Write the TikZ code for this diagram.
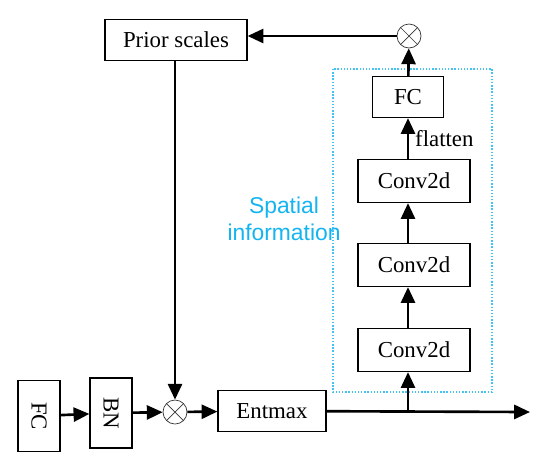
\documentclass[tikz,border=0pt]{standalone}
\usepackage{fontspec}
\setmainfont{Liberation Serif}
\setsansfont{Liberation Sans}
\usetikzlibrary{arrows.meta}
\definecolor{skyblue}{RGB}{20,180,240}
\newcommand{\prodsign}[2]% name, position
{\node[circle,draw=black!80,inner sep=0pt,minimum size=24*0.02cm] (#1) at (#2) {};
\draw[black!80] (#1.north west) -- (#1.south east) (#1.north east) -- (#1.south west);
}

\begin{document}
\begin{tikzpicture}[x=0.02cm,y=-0.02cm,
  blk/.style={draw,line width=0.7pt,fill=white,inner sep=2pt,font=\fontsize{13}{15}\selectfont},
  flow/.style={line width=1.5pt,-{Triangle[length=9pt,width=8pt]}}]
\useasboundingbox (0,0) rectangle (550,464);
% spatial branch frame
\draw[skyblue!80,densely dotted,line width=0.8pt] (333,69) rectangle (492,392);
\node[skyblue,align=center,font=\sffamily\fontsize{13}{15}\selectfont] (sp) at (284,219) {Spatial\\information};
\node[blk,minimum width=71*0.02cm,minimum height=42*0.02cm,rotate=-90] (fc1) at (39,416) {FC};
\node[blk,minimum width=70*0.02cm,minimum height=42*0.02cm,rotate=-90] (bn) at (111,413) {BN};
\prodsign{m1}{175,412}
\node[blk,minimum width=108*0.02cm,minimum height=41*0.02cm] (ent) at (272,411) {Entmax};
\node[blk,minimum width=112*0.02cm,minimum height=43*0.02cm] (cv1) at (414,350) {Conv2d};
\node[blk,minimum width=112*0.02cm,minimum height=43*0.02cm] (cv2) at (414,265) {Conv2d};
\node[blk,minimum width=112*0.02cm,minimum height=43*0.02cm] (cv3) at (414,181) {Conv2d};
\node[blk,minimum width=71*0.02cm,minimum height=41*0.02cm] (fc2) at (408,97) {FC};
\prodsign{m2}{409,36}
\node[blk,minimum width=142*0.02cm,minimum height=41*0.02cm] (ps) at (176,40) {Prior scales};
\coordinate (out) at (530,412);
\coordinate (br) at (408,412);
\draw[flow] (fc1) -- (bn);
\draw[flow] (bn) -- (m1);
\draw[flow] (m1) -- (ent);
\draw[flow] (ent) -- (out);
\draw[flow] (br) -- (cv1.south -| br);
\draw[flow] (cv1.north -| br) -- (cv2.south -| br);
\draw[flow] (cv2.north -| br) -- (cv3.south -| br);
\draw[flow] (cv3.north -| br) -- node[right,font=\fontsize{13}{15}\selectfont] {flatten} (fc2);
\draw[flow] (fc2) -- (m2);
\draw[flow] (m2) -- (ps.east |- m2);
\draw[flow] (ps.south -| m1) -- (m1);
\end{tikzpicture}
\end{document}
